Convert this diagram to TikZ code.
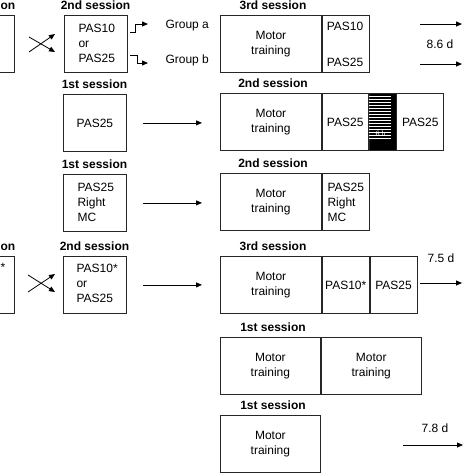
\documentclass[tikz,border=0pt]{standalone}
\usepackage{fontspec}
\setmainfont{Liberation Sans}
\newfontfamily\smallserif{Liberation Serif}
\usetikzlibrary{arrows.meta}

\tikzset{
  box/.style={draw=black!85, line width=0.8pt, minimum height=57pt, inner sep=0pt, align=center, font=\fontsize{12}{15}\selectfont},
  lbl/.style={anchor=base, font=\bfseries\fontsize{12}{14}\selectfont},
  txt/.style={font=\fontsize{12}{15}\selectfont, align=left},
  arr/.style={line width=0.8pt, -{Triangle[length=6pt,width=5pt]}},
  gap/.style={arr, shorten <=16pt, shorten >=18pt}
}

\begin{document}
\begin{tikzpicture}[x=1pt,y=-1pt]
    \useasboundingbox (0,0) rectangle (474,474);

    % Parameters
    \def\mt{101}
    \def\pas{47}

    % Row 1: crossover to PAS10 or PAS25
    \node[box, minimum width=63pt, anchor=north west] (first1) at (-49,15) {};
    \node[lbl] at (-17.5,9) {1st session};
    \node[box, minimum width=63pt, anchor=north west] (sec1) at (64,15) {};
    \node[txt, anchor=west] at (75,43.5) {PAS10\\or\\PAS25};
    \node[lbl] at (95.5,9) {2nd session};
    \coordinate (x1a) at (29,37);
    \coordinate (x1b) at (55,52);
    \coordinate (x1c) at (29,52);
    \coordinate (x1d) at (55,34);
    \draw[arr] (x1a) -- (x1b);
    \draw[arr] (x1c) -- (x1d);
    \coordinate (s1a) at (130,32);
    \coordinate (s1b) at (130,55);
    \coordinate (ga) at (148,24);
    \coordinate (gb) at (148,63);
    \draw[arr] (s1a) -- ++(5,0) |- (ga);
    \draw[arr] (s1b) -- ++(7,0) |- (gb);
    \node[txt, anchor=west] (grpa) at (162,26) {Group a};
    \node[txt, anchor=west] (grpb) at (162,60) {Group b};
    \node[box, minimum width=\mt pt, anchor=north west] (mt1) at (220,15) {Motor\\training};
    \node[box, minimum width=\pas pt, anchor=north west] (pas1) at (mt1.north east) {};
    \node[txt] at (345,26) {PAS10};
    \node[txt] at (345,62) {PAS25};
    \node[lbl] at (273,9) {3rd session};
    \coordinate (d1a) at (420,24);
    \coordinate (d1b) at (462,24);
    \coordinate (d1c) at (420,64);
    \coordinate (d1d) at (462,64);
    \draw[arr] (d1a) -- (d1b);
    \draw[arr] (d1c) -- (d1d);
    \node[txt] at (440,44) {8.6 d};

    % Row 2: PAS25 repeated after 6 h
    \node[box, minimum width=63pt, anchor=north west] (first2) at (63,94) {PAS25};
    \node[lbl] at (94.5,88) {1st session};
    \node[box, minimum width=\mt pt, anchor=north west] (mt2) at (220,93) {Motor\\training};
    \node[box, minimum width=46pt, anchor=north west] (pas2) at (mt2.north east) {PAS25};
    \node[box, minimum width=27pt, fill=black, anchor=north west] (wait) at (pas2.north east) {};
    \node[box, minimum width=47pt, anchor=north west] (pas2b) at (wait.north east) {PAS25};
    \node[lbl] at (273,87) {2nd session};
    \draw[gap] (first2.east) -- (first2.east -| mt2.west);
    \foreach \y in {96,99,...,140} {
      \draw[white, line width=0.5pt] (369,\y) -- (391,\y);
    }
    \node[text=white, font=\smallserif\fontsize{8}{8}\selectfont] at (380.5,134) {6 h};

    % Row 3: PAS25 right MC
    \node[box, minimum width=63pt, anchor=north west] (first3) at (63,174) {};
    \node[txt, anchor=west] at (74,202) {PAS25\\Right\\MC};
    \node[lbl] at (94.5,168) {1st session};
    \node[box, minimum width=\mt pt, anchor=north west] (mt3) at (220,173) {Motor\\training};
    \node[box, minimum width=\pas pt, anchor=north west] (pas3) at (mt3.north east) {};
    \node[txt, anchor=west] at (324,202) {PAS25\\Right\\MC};
    \node[lbl] at (273,167) {2nd session};
    \draw[gap] (first3.east) -- (first3.east -| mt3.west);

    % Row 4: crossover to PAS10* or PAS25
    \node[box, minimum width=63pt, anchor=north west] (first4) at (-49,256) {};
    \node[txt] at (3,267) {*};
    \node[lbl] at (-17.5,250) {1st session};
    \coordinate (x4a) at (28,275);
    \coordinate (x4b) at (55,292);
    \coordinate (x4c) at (28,292);
    \coordinate (x4d) at (55,274);
    \draw[arr] (x4a) -- (x4b);
    \draw[arr] (x4c) -- (x4d);
    \node[box, minimum width=63pt, anchor=north west] (sec4) at (63,256) {};
    \node[txt, anchor=west] at (73,283.5) {PAS10*\\or\\PAS25};
    \node[lbl] at (94.5,250) {2nd session};
    \node[box, minimum width=\mt pt, anchor=north west] (mt4) at (220,256) {Motor\\training};
    \node[box, minimum width=\pas pt, anchor=north west] (pas4) at (mt4.north east) {PAS10*};
    \node[box, minimum width=\pas pt, anchor=north west] (pas4b) at (pas4.north east) {PAS25};
    \node[lbl] at (273,250) {3rd session};
    \draw[gap] (sec4.east) -- (sec4.east -| mt4.west);
    \coordinate (d4a) at (420,283);
    \coordinate (d4b) at (462,283);
    \draw[arr] (d4a) -- (d4b);
    \node[txt] at (441,258) {7.5 d};

    % Row 5: two motor trainings
    \node[box, minimum width=100pt, anchor=north west] (mt5) at (220,337) {Motor\\training};
    \node[box, minimum width=100pt, anchor=north west] (mt5b) at (mt5.north east) {Motor\\training};
    \node[lbl] at (273,331) {1st session};

    % Row 6: motor training only
    \node[box, minimum width=100pt, anchor=north west] (mt6) at (220,415) {Motor\\training};
    \node[lbl] at (273,409) {1st session};
    \coordinate (d6a) at (403,445);
    \coordinate (d6b) at (463,445);
    \draw[arr] (d6a) -- (d6b);
    \node[txt] at (435,428) {7.8 d};
  \end{tikzpicture}
\end{document}
